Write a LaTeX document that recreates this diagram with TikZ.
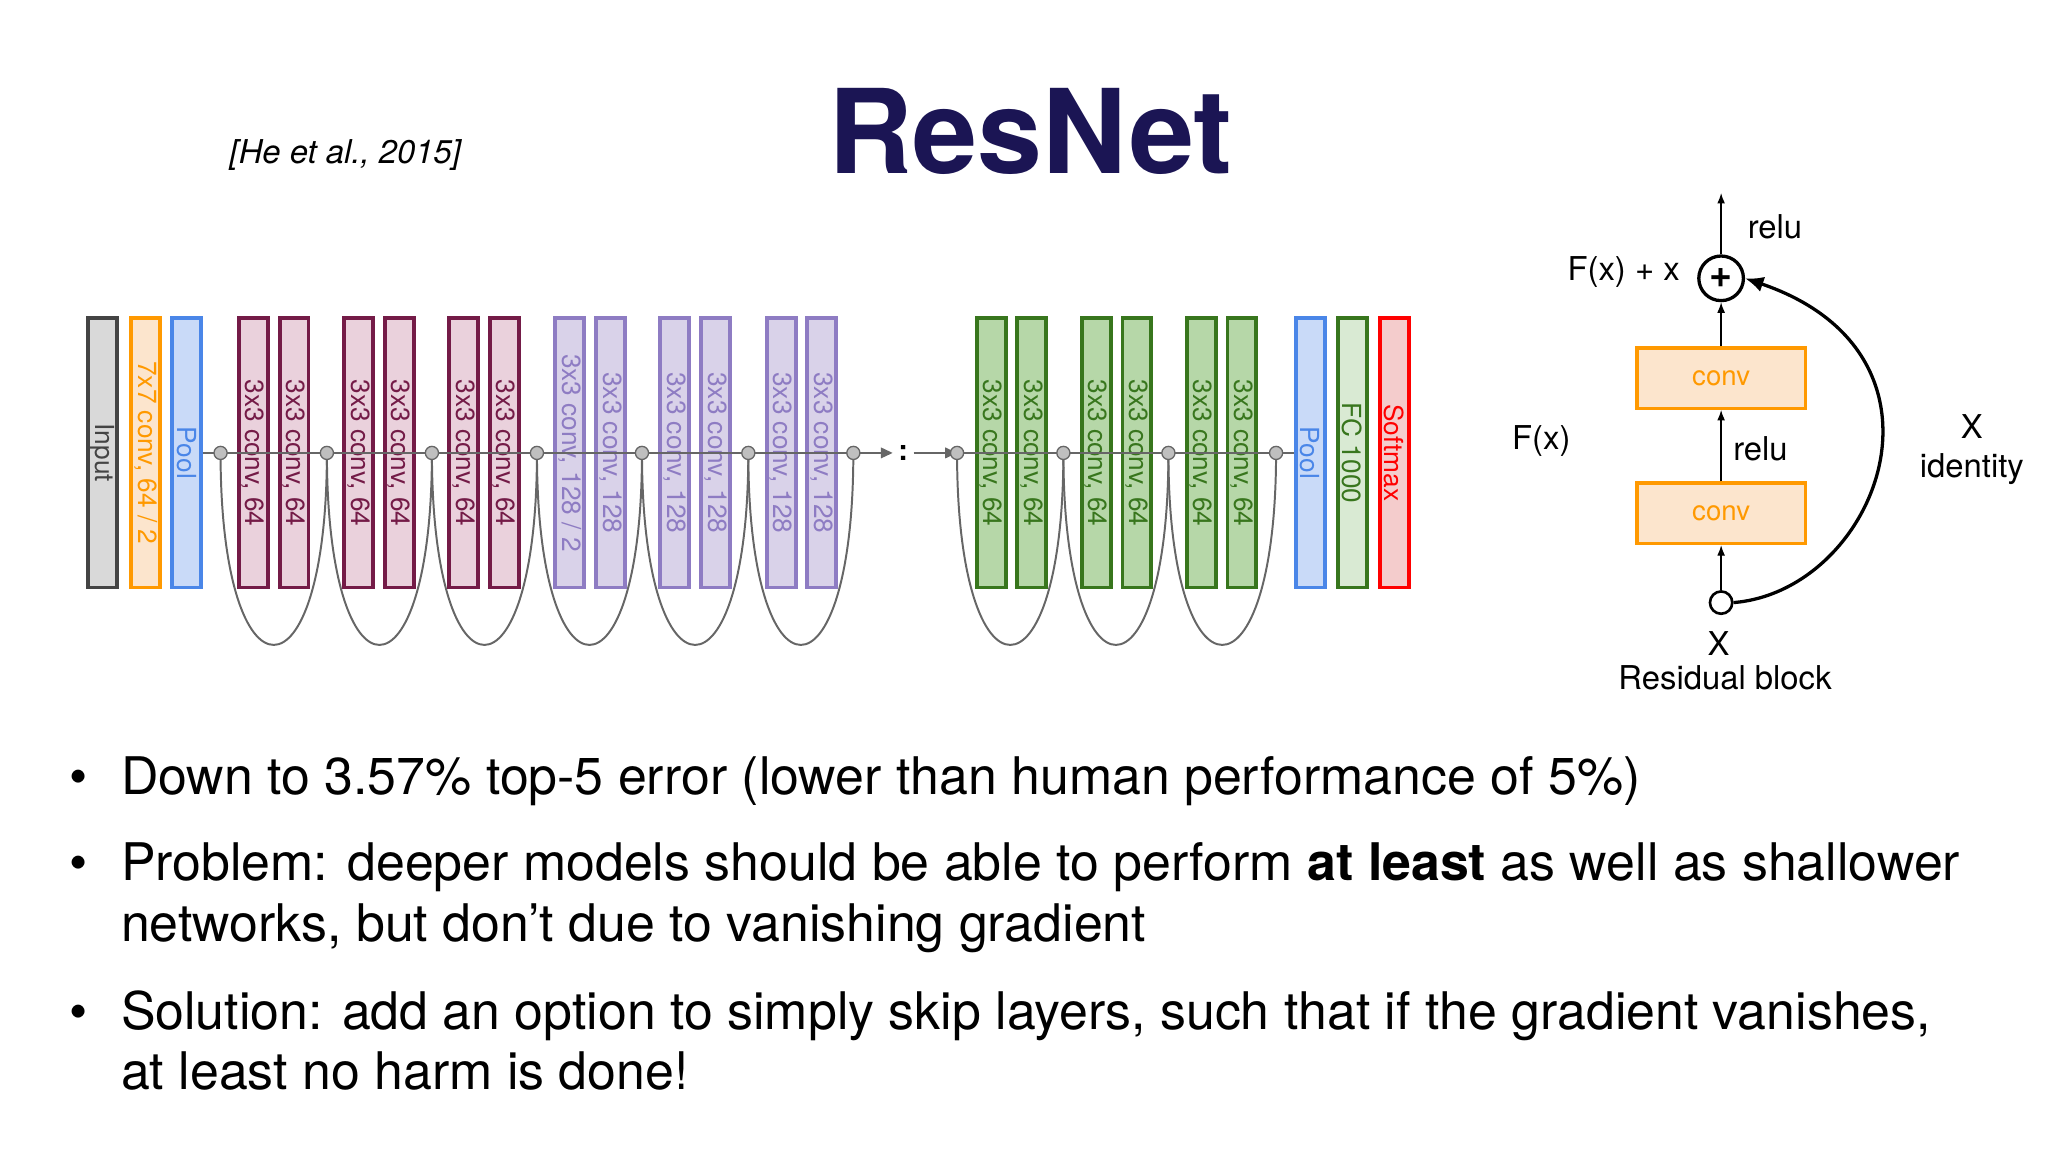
\documentclass[tikz,border=0pt]{standalone}
\usepackage{fontspec}
\setmainfont{TeX Gyre Heros}
\usetikzlibrary{arrows.meta}
\definecolor{navy}{HTML}{1B1554}
\definecolor{inpD}{HTML}{444444}\definecolor{inpF}{HTML}{D9D9D9}
\definecolor{orgD}{HTML}{FF9900}\definecolor{orgF}{HTML}{FCE5CD}
\definecolor{bluD}{HTML}{4A86E8}\definecolor{bluF}{HTML}{C9DAF8}
\definecolor{marD}{HTML}{741B47}\definecolor{marF}{HTML}{EAD1DC}
\definecolor{purD}{HTML}{8E7CC3}\definecolor{purF}{HTML}{D9D2E9}
\definecolor{grnD}{HTML}{38761D}\definecolor{grnF}{HTML}{B6D7A8}
\definecolor{fcF}{HTML}{D9EAD3}
\definecolor{redD}{HTML}{FF0000}\definecolor{redF}{HTML}{F4CCCC}
\definecolor{wire}{HTML}{666666}
\tikzset{
  layer/.style={draw=#1D, fill=#1F, text=#1D, line width=3pt, minimum width=22pt, minimum height=205pt,
    inner sep=0pt},
  lbl/.style={rotate=-90, font=\fontsize{20}{20}\selectfont},
  joint/.style={circle, draw=wire, fill=black!25, line width=1pt, minimum size=10pt, inner sep=0pt},
  conv/.style={draw=orgD, fill=orgF, text=orgD, line width=2.5pt, minimum width=128pt, minimum height=46pt,
    font=\fontsize{21}{21}\selectfont},
  txt/.style={font=\fontsize{25}{25}\selectfont},
  bul/.style={anchor=base west, font=\fontsize{39.5}{39.5}\selectfont, inner sep=0pt}
}
\begin{document}
\begin{tikzpicture}[x=1pt,y=-1pt]
  \useasboundingbox (0,0) rectangle (1560,877.5);
  % title
  \node[text=navy, font=\fontsize{89}{89}\selectfont\bfseries] (title) at (785,100) {ResNet};
  \node[font=\fontsize{25}{25}\selectfont\itshape] (cite) at (263,118) {[He et al., 2015]};
  % layers
  \node[layer=inp] (input) at (78,345) {}; \node[lbl, text=inpD] at (input) {Input};
  \node[layer=org] (c7) at (111,345) {}; \node[lbl, text=orgD] at (c7) {7x7 conv, 64 / 2};
  \node[layer=blu] (pool) at (142,345) {}; \node[lbl, text=bluD] at (pool) {Pool};
  % joints and wire
  \foreach \x [count=\i] in {168,249,329,409,489,570,650,729,810,890,972}
    \coordinate (j\i) at (\x,345);
  % skip arcs
  \foreach \a/\b in {1/2,2/3,3/4,4/5,5/6,6/7,8/9,9/10,10/11}
    \draw[wire, line width=1.5pt] (j\a) .. controls ([yshift=-195pt]j\a) and ([yshift=-195pt]j\b) .. (j\b);
  % conv layers
  \foreach \x/\c/\t [count=\i] in {193/mar/{3x3 conv, 64},224/mar/{3x3 conv, 64},273/mar/{3x3 conv, 64},304/mar/{3x3 conv, 64},
      353/mar/{3x3 conv, 64},384/mar/{3x3 conv, 64},434/pur/{3x3 conv, 128 / 2},465/pur/{3x3 conv, 128},
      514/pur/{3x3 conv, 128},545/pur/{3x3 conv, 128},595/pur/{3x3 conv, 128},626/pur/{3x3 conv, 128},
      755/grn/{3x3 conv, 64},786/grn/{3x3 conv, 64},835/grn/{3x3 conv, 64},866/grn/{3x3 conv, 64},
      915/grn/{3x3 conv, 64},946/grn/{3x3 conv, 64}}
  {
    \node[layer=\c] (l\i) at (\x,345) {};
    \node[lbl, text=\c D] at (l\i) {\t};
  }
  \node[layer=blu] (pool2) at (998,345) {}; \node[lbl, text=bluD] at (pool2) {Pool};
  \node[layer=grn, fill=fcF] (fc) at (1030,345) {}; \node[lbl, text=grnD] at (fc) {FC 1000};
  \node[layer=red] (soft) at (1062,345) {}; \node[lbl, text=redD] at (soft) {Softmax};
  \draw[wire, line width=1.5pt] (pool) -- (j7);
  \draw[wire, line width=1.5pt] (j8) -- (pool2);
  \coordinate (dots) at (688,345);
  \draw[wire, line width=1.5pt, -{Triangle[length=9pt,width=8pt]}] (j7) -- ([xshift=-8pt]dots);
  \draw[wire, line width=1.5pt, -{Triangle[length=9pt,width=8pt]}] ([xshift=8pt]dots) -- (j8);
  \node[font=\fontsize{22}{22}\selectfont\bfseries] at (dots) {:};
  \foreach \i in {1,...,11}
    \node[joint] at (j\i) {};
  % residual block
  \node[circle, draw, line width=2.5pt, minimum size=34pt, inner sep=0pt, font=\fontsize{30}{30}\selectfont\bfseries] (plus) at (1311,212) {+};
  \coordinate (out) at (1311,147);
  \node[conv] (convA) at (1311,288) {conv};
  \node[conv] (convB) at (1311,391) {conv};
  \node[circle, draw, line width=2pt, minimum size=17pt, inner sep=0pt] (xin) at (1311,459) {};
  \draw[-{Latex[length=8pt]}, line width=1pt] (plus) -- (out);
  \draw[-{Latex[length=8pt]}, line width=1pt] (convA) -- (plus);
  \draw[-{Latex[length=8pt]}, line width=1pt] (convB) -- (convA);
  \draw[-{Latex[length=8pt]}, line width=1pt] (xin) -- (convB);
  \draw[-{Latex[length=14pt,width=12pt]}, line width=2.5pt] (xin.east) .. controls (1430,450) and (1500,270) .. (plus.east);
  \node[txt] at (1352,173) {relu};
  \node[txt, anchor=east] at (1283,207) {F(x) + x};
  \node[txt] at (1341,342) {relu};
  \node[txt] at (1174,336) {F(x)};
  \node[txt] at (1502,325) {X};
  \node[txt] at (1502,357) {identity};
  \node[txt] at (1309,490) {X};
  \node[txt] at (1314,516) {Residual block};
  % bullets
  \node[bul] (b1) at (92,605) {Down to 3.57\% top-5 error (lower than human performance of 5\%)};
  \node[bul] (b2) at (92,671) {Problem: deeper models should be able to perform \textbf{at least} as well as shallower};
  \node[bul] (b2b) at (92,717) {networks, but don’t due to vanishing gradient};
  \node[bul] (b3) at (92,784) {Solution: add an option to simply skip layers, such that if the gradient vanishes,};
  \node[bul] (b3b) at (92,830) {at least no harm is done!};
  \foreach \b in {b1,b2,b3}
    \node[bul, anchor=base] at ([xshift=-32pt]\b.base west) {•};
\end{tikzpicture}
\end{document}
